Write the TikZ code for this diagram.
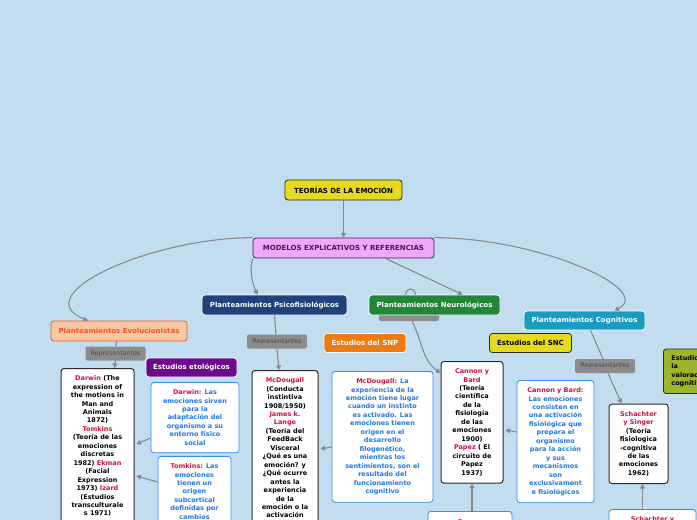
\documentclass[tikz,border=0pt]{standalone}
\usepackage{fontspec}
\setmainfont{DejaVu Sans}
\usepackage{tikz}
\usetikzlibrary{arrows.meta,positioning,calc}
\definecolor{skyBg}{HTML}{C3DDF0}
\definecolor{yellowTopic}{HTML}{E6DA1C}
\definecolor{pinkTopic}{HTML}{F0A8F8}
\definecolor{plumLine}{HTML}{4D1452}
\definecolor{navyBranch}{HTML}{1E4279}
\definecolor{greenBranch}{HTML}{1F8737}
\definecolor{tealBranch}{HTML}{1A9BC2}
\definecolor{peachBranch}{HTML}{F8C8A2}
\definecolor{flameLine}{HTML}{F0541E}
\definecolor{purpleBranch}{HTML}{6A0B8C}
\definecolor{orangeBranch}{HTML}{EE7A12}
\definecolor{oliveBranch}{HTML}{9CB52C}
\definecolor{tagGrey}{HTML}{8C8C8C}
\definecolor{tagText}{HTML}{4A4A4A}
\definecolor{darkLine}{HTML}{2A2A2A}
\definecolor{nameRed}{HTML}{D0103C}
\definecolor{noteBlue}{HTML}{2277DD}
\definecolor{noteLine}{HTML}{3A8CF0}
\definecolor{linkGrey}{HTML}{8A8A8A}
\newcommand{\who}[1]{\textcolor{nameRed}{#1}}
\tikzset{
        mind box/.style={rounded corners=3pt, line width=0.8pt, align=center,
            inner xsep=2pt, inner ysep=7.3pt,
            font=\fontsize{6.5}{8.45}\selectfont\bfseries},
        topic box/.style={mind box, inner ysep=2pt, minimum height=20pt, draw=darkLine,
            font=\fontsize{7}{8.4}\selectfont\bfseries},
        branch box/.style={topic box, draw=white, text=white},
        tag box/.style={rounded corners=2pt, fill=tagGrey, text=tagText, inner sep=1pt,
            minimum width=60pt, minimum height=14pt, font=\fontsize{6.3}{7}\selectfont},
        card box/.style={mind box, fill=white, draw=darkLine, line width=1pt, anchor=north},
        note box/.style={mind box, fill=white, draw=noteLine, text=noteBlue, anchor=north},
        line/.style={draw=linkGrey, line width=1.1pt},
        link/.style={line, -{Triangle[length=4.5pt,width=5pt]}},
    }

\begin{document}
\begin{tikzpicture}[x=1pt, y=-1pt]
    \useasboundingbox (0,0) rectangle (697,520);
    \clip (0,0) rectangle (697,520);
    \fill[skyBg] (0,0) rectangle (697,520);

    % centre
    \node[topic box, fill=yellowTopic, minimum width=117pt] (teorias) at (343.5,190) {TEORÍAS DE LA EMOCIÓN};
    \node[topic box, fill=pinkTopic, draw=plumLine, text=plumLine, minimum width=181pt] (modelos) at (343.5,248) {MODELOS EXPLICATIVOS Y REFERENCIAS};

    % branches
    \node[tag box] (repNeuro) at (409,314) {Representantes};
    \node[branch box, fill=navyBranch, minimum width=145pt] (psico) at (274.5,305) {Planteamientos Psicofisiológicos};
    \node[branch box, fill=greenBranch, minimum width=131pt] (neuro) at (434.5,305) {Planteamientos Neurológicos};
    \node[branch box, fill=tealBranch, minimum width=121pt, minimum height=19pt] (cogni) at (584.5,320.5) {Planteamientos Cognitivos};
    \node[topic box, fill=peachBranch, draw=flameLine, text=flameLine, minimum width=136pt] (evol) at (119,331) {Planteamientos Evolucionistas};

    \node[tag box] (repEvol) at (115.5,353.5) {Representantes};
    \node[tag box] (repPsico) at (277,341.5) {Representantes};
    \node[tag box] (repCog) at (605,366) {Representantes};

    \node[branch box, fill=purpleBranch, minimum width=91pt, minimum height=19pt] (etolog) at (191.5,367.5) {Estudios etológicos};
    \node[branch box, fill=orangeBranch, minimum width=82pt, minimum height=19pt] (snp) at (365,343) {Estudios del SNP};
    \node[topic box, fill=yellowTopic, minimum width=82pt, minimum height=19pt] (snc) at (530.5,343) {Estudios del SNC};
    \node[mind box, fill=oliveBranch, draw=darkLine, align=left, inner ysep=6.5pt, anchor=north west, minimum width=50pt, inner xsep=8pt] (valora) at (663,348.5) {Estudios de\\la\\valoración\\cognitiva};

    % representantes
    \node[card box, minimum width=73pt] (darwinCard) at (97.5,368) {\who{Darwin} (The\\expression of\\the motions in\\Man and\\Animals\\1872)\\\who{Tomkins}\\(Teoría de las\\emociones\\discretas\\1982) \who{Ekman}\\(Facial\\Expression\\1973) \who{Izard}\\(Estudios\\transculturale\\s 1971)\\\rule{0pt}{14pt}};
    \node[card box, minimum width=66pt] (mcCard) at (285,370) {\who{McDougall}\\(Conducta\\instintiva\\1908/1950)\\\who{James k.}\\\who{Lange}\\(Teoría del\\FeedBack\\Visceral\\¿Qué es una\\emoción? y\\¿Qué ocurre\\antes la\\experiencia\\de la\\emoción o la\\activación\\\rule{0pt}{14pt}};
    \node[card box, minimum width=62pt] (cannonCard) at (472,361) {\who{Cannon y}\\\who{Bard}\\(Teoría\\científica\\de la\\fisiología\\de las\\emociones\\1900)\\\who{Papez} ( El\\circuito de\\Papez\\1937)};
    \node[card box, minimum width=59pt] (schCard) at (638.5,403.5) {\who{Schachter}\\\who{y Singer}\\(Teoría\\fisiologica\\-cognitiva\\de las\\emociones\\1962)};

    % estudios
    \node[note box, minimum width=88pt] (darwinNote) at (195,382) {\who{Darwin:} Las\\emociones sirven\\para la\\adaptación del\\organismo a su\\entorno físico\\social};
    \node[note box, minimum width=73pt] (tomkinsNote) at (194.5,456) {\who{Tomkins:} Las\\emociones\\tienen un\\origen\\subcortical\\definidas por\\cambios\\\rule{0pt}{14pt}};
    \node[note box, minimum width=101pt] (mcNote) at (382.5,371) {\who{McDougall:} La\\experiencia de la\\emoción tiene lugar\\cuando un instinto\\es activado. Las\\emociones tienen\\origen en el\\desarrollo\\filogenético,\\mientras los\\sentimientos, son el\\resultado del\\funcionamiento\\cognitivo};
    \node[note box, minimum width=77pt] (cannonNote) at (555.5,380) {\who{Cannon y Bard:}\\Las emociones\\consisten en\\una activación\\fisiológica que\\prepara el\\organismo\\para la acción\\y sus\\mecanismos\\son\\exclusivament\\e fisiológicos};
    \node[note box, minimum width=84pt] (papezNote) at (470,511) {\rule{0pt}{6pt}\who{Papez:}\\\rule{0pt}{14pt}};
    \node[note box, minimum width=87pt] (schNote) at (652.5,509) {\who{Schachter y}\\\rule{0pt}{14pt}};

    % links
    \draw[link] (teorias) -- (modelos);
    \draw[link] (modelos.north west) .. controls (150,238) and (25,295) .. ([xshift=-31]evol.north);
    \draw[link] (modelos.south west) .. controls (249,272) and (253,285) .. ([xshift=-17]psico.north);
    \draw[link] ([xshift=42]modelos.south) -- ([xshift=28]neuro.north);
    \draw[link] (modelos.north east) .. controls (540,238) and (655,290) .. ([xshift=30]cogni.north);

    \draw[line] ([xshift=-2]evol.south) -- (repEvol.north);
    \draw[link] (repEvol.south) -- ([xshift=17]darwinCard.north);
    \draw[line] (psico.south) -- ([xshift=-1]repPsico.north);
    \draw[link] (repPsico.south) -- ([xshift=-6]mcCard.north);
    \draw[line] ([xshift=-29]neuro.north) to[out=80,in=100,looseness=2] ([xshift=-19]neuro.north);
    \draw[link] ([xshift=3]repNeuro.south) to[out=-62,in=145] ([yshift=-12]cannonCard.north west);
    \draw[line] ([xshift=6]cogni.south) -- ([xshift=-2]repCog.north);
    \draw[link] ([xshift=3]repCog.south) -- ([xshift=-17]schCard.north);

    \draw[link] ($(darwinNote.north west)+(0,56)$) -- ($(darwinCard.north east)+(2,76)$);
    \draw[link] ($(tomkinsNote.north west)+(0,26)$) -- ($(darwinCard.north east)+(2,108)$);
    \draw[link] ($(mcNote.north west)+(0,76)$) -- ($(mcCard.north east)+(2,79)$);
    \draw[link] ($(cannonNote.north west)+(0,52)$) -- ($(cannonCard.north east)+(2,69)$);
    \draw[link] ([xshift=2]papezNote.north) -- (cannonCard.south);
    \draw[link] ([xshift=-10]schNote.north) -- ([xshift=4]schCard.south);
\end{tikzpicture}
\end{document}
